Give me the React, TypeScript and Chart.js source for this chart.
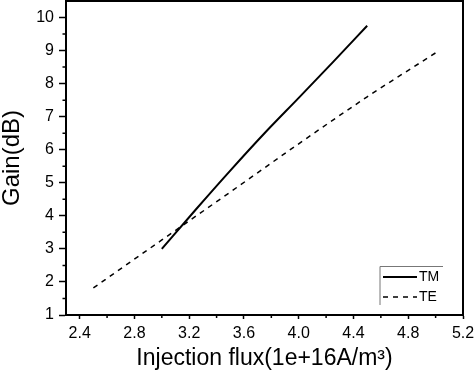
import React, { useEffect, useRef } from "react";
import { Chart, registerables } from "chart.js";

Chart.register(...registerables);

const tmX = [3.0, 3.25, 3.5, 3.75, 4.0, 4.25, 4.5];
const tmY = [3.0, 4.2, 5.37, 6.5, 7.57, 8.65, 9.75];
const teX = [2.5, 3.0, 3.5, 4.0, 4.5, 5.0];
const teY = [1.82, 3.27, 4.72, 6.18, 7.6, 8.93];
const xMajorTicks = [2.4, 2.8, 3.2, 3.6, 4.0, 4.4, 4.8, 5.2];
const xMinorTicks = [2.6, 3.0, 3.4, 3.8, 4.2, 4.6, 5.0];
const yMajorTicks = [1, 2, 3, 4, 5, 6, 7, 8, 9, 10];
const yMinorTicks = [1.5, 2.5, 3.5, 4.5, 5.5, 6.5, 7.5, 8.5, 9.5];
const seriesLabels = ["TM", "TE"];

const FONT = "'Liberation Sans', Arial, sans-serif";

const framePlugin = {
  id: "frame",
  afterDraw(chart: any) {
    const { ctx, chartArea, scales } = chart;
    const { left, right, top, bottom } = chartArea;
    ctx.save();
    ctx.strokeStyle = "#000";
    ctx.lineWidth = 2;
    ctx.beginPath();
    ctx.moveTo(left, top);
    ctx.lineTo(right, top);
    ctx.lineTo(right, bottom);
    ctx.stroke();
    // minor ticks
    ctx.lineWidth = 1.5;
    ctx.beginPath();
    xMinorTicks.forEach((v) => {
      const px = scales.x.getPixelForValue(v);
      ctx.moveTo(px, bottom);
      ctx.lineTo(px, bottom + 3);
    });
    yMinorTicks.forEach((v) => {
      const py = scales.y.getPixelForValue(v);
      ctx.moveTo(left, py);
      ctx.lineTo(left - 3.5, py);
    });
    ctx.stroke();
    // legend
    const lx = 380;
    const ly = 266.5;
    ctx.strokeStyle = "#777";
    ctx.lineWidth = 1;
    ctx.beginPath();
    ctx.moveTo(lx, 305);
    ctx.lineTo(lx, ly);
    ctx.lineTo(443, ly);
    ctx.stroke();
    const ds = chart.data.datasets;
    const rows = [277, 297];
    ds.forEach((d: any, i: number) => {
      ctx.strokeStyle = "#000";
      ctx.lineWidth = d.borderWidth;
      ctx.setLineDash(d.borderDash || []);
      ctx.beginPath();
      ctx.moveTo(383, rows[i]);
      ctx.lineTo(417, rows[i]);
      ctx.stroke();
      ctx.setLineDash([]);
      ctx.fillStyle = "#000";
      ctx.font = `14px ${FONT}`;
      ctx.textBaseline = "middle";
      ctx.textAlign = "left";
      ctx.fillText(d.label, 419, rows[i]);
    });
    ctx.restore();
  },
};

export default function App() {
  const ref = useRef<HTMLCanvasElement>(null);
  useEffect(() => {
    document.body.style.margin = "0";
    const canvas = ref.current!;
    const chart = new Chart(canvas, {
      type: "line",
      data: {
        datasets: [
          {
            label: seriesLabels[0],
            data: tmX.map((x, i) => ({ x, y: tmY[i] })),
            borderColor: "#000",
            borderWidth: 2,
            pointRadius: 0,
            fill: false,
            cubicInterpolationMode: "monotone",
          },
          {
            label: seriesLabels[1],
            data: teX.map((x, i) => ({ x, y: teY[i] })),
            borderColor: "#000",
            borderWidth: 1.5,
            borderDash: [5, 5],
            pointRadius: 0,
            fill: false,
            cubicInterpolationMode: "monotone",
          },
        ],
      },
      options: {
        animation: false,
        responsive: false,
        maintainAspectRatio: false,
        layout: { padding: { top: 1, right: 11, left: 0, bottom: 0 } },
        plugins: { legend: { display: false }, tooltip: { enabled: false } },
        scales: {
          x: {
            type: "linear",
            min: 2.3,
            max: 5.2,
            afterBuildTicks: (s: any) => {
              s.ticks = xMajorTicks.map((v) => ({ value: v }));
            },
            afterFit: (s: any) => {
              s.height = 68;
              s.paddingLeft = 0;
              s.paddingRight = 0;
            },
            border: { display: true, color: "#000", width: 2 },
            grid: {
              display: true,
              drawOnChartArea: false,
              drawTicks: true,
              tickLength: 4,
              tickColor: "#000",
              tickWidth: 1.5,
            },
            ticks: {
              padding: 5,
              color: "#000",
              font: { family: FONT, size: 16 },
              maxRotation: 0,
              autoSkip: false,
              callback: (v: any) => Number(v).toFixed(1),
            },
            title: {
              display: true,
              text: "Injection flux(1e+16A/m³)",
              color: "#000",
              font: { family: FONT, size: 23, lineHeight: 1 },
              padding: { top: 0, bottom: 13 },
            },
          },
          y: {
            type: "linear",
            min: 1,
            max: 10.5,
            afterBuildTicks: (s: any) => {
              s.ticks = yMajorTicks.map((v) => ({ value: v }));
            },
            afterFit: (s: any) => {
              s.width = 66;
              s.paddingTop = 0;
              s.paddingBottom = 0;
            },
            border: { display: true, color: "#000", width: 2 },
            grid: {
              display: true,
              drawOnChartArea: false,
              drawTicks: true,
              tickLength: 7,
              tickColor: "#000",
              tickWidth: 1.5,
            },
            ticks: {
              padding: 5,
              color: "#000",
              font: { family: FONT, size: 16 },
              autoSkip: false,
              callback: (v: any) => String(v),
            },
            title: {
              display: true,
              text: "Gain(dB)",
              color: "#000",
              font: { family: FONT, size: 24, lineHeight: 1 },
              padding: { top: 0, bottom: 0 },
            },
          },
        },
      },
      plugins: [framePlugin],
    });
    return () => chart.destroy();
  }, []);
  return (
    <div style={{ width: 474, height: 383 }}>
      <canvas ref={ref} width={474} height={383} style={{ display: "block" }} />
    </div>
  );
}
